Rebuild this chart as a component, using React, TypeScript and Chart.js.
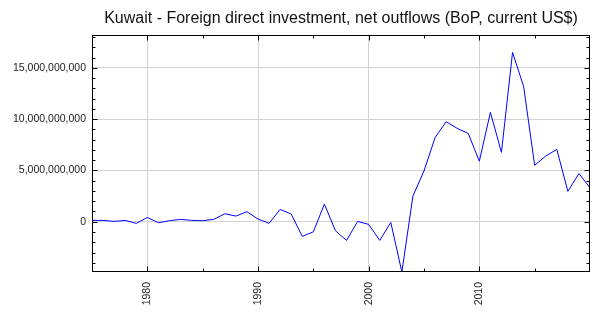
import React, { useEffect, useRef } from 'react';
import { Chart, registerables } from 'chart.js';

Chart.register(...registerables);

const TITLE = 'Kuwait - Foreign direct investment, net outflows (BoP, current US$)';

const years = [
  1975, 1976, 1977, 1978, 1979, 1980, 1981, 1982, 1983, 1984,
  1985, 1986, 1987, 1988, 1989, 1990, 1991, 1992, 1993, 1994,
  1995, 1996, 1997, 1998, 1999, 2000, 2001, 2002, 2003, 2004,
  2005, 2006, 2007, 2008, 2009, 2010, 2011, 2012, 2013, 2014,
  2015, 2016, 2017, 2018, 2019, 2020,
];

const values = [
  0.13e9, 0.13e9, 0.03e9, 0.13e9, -0.16e9, 0.42e9, -0.1e9, 0.1e9, 0.23e9, 0.13e9,
  0.1e9, 0.23e9, 0.78e9, 0.55e9, 0.98e9, 0.26e9, -0.16e9, 1.2e9, 0.75e9, -1.43e9,
  -0.98e9, 1.72e9, -0.88e9, -1.82e9, 0.03e9, -0.26e9, -1.82e9, -0.07e9, -4.9e9, 2.5e9,
  4.95e9, 8.2e9, 9.75e9, 9.1e9, 8.6e9, 5.9e9, 10.66e9, 6.76e9, 16.5e9, 13.2e9,
  5.5e9, 6.4e9, 7.05e9, 2.96e9, 4.7e9, 3.3e9,
];

const xTickValues = [1980, 1990, 2000, 2010];
const yTickValues = [0, 5e9, 10e9, 15e9];

const X_MIN = 1975;
const X_MAX = 2020;
const Y_MIN = -4.9e9;
const Y_MAX = 18.2e9;

const FONT = '"Liberation Sans", Arial, sans-serif';

const framePlugin = {
  id: 'frame',
  afterDatasetsDraw(chart: any) {
    const { ctx, chartArea: a, scales } = chart;
    const xs = scales.x;
    const ys = scales.y;
    const L = Math.round(a.left) + 0.5;
    const R = Math.round(a.right) - 0.5;
    const T = Math.round(a.top) + 0.5;
    const B = Math.round(a.bottom) - 0.5;
    ctx.save();
    ctx.strokeStyle = '#000';
    ctx.lineWidth = 1;
    ctx.beginPath();
    for (let v = Math.ceil(Y_MIN / 1e9); v <= Math.floor(Y_MAX / 1e9); v++) {
      const py = Math.round(ys.getPixelForValue(v * 1e9)) + 0.5;
      const len = v % 5 === 0 ? 5 : 3;
      ctx.moveTo(L, py);
      ctx.lineTo(L + len, py);
      ctx.moveTo(R, py);
      ctx.lineTo(R - len, py);
    }
    for (let yr = X_MIN + 5; yr < X_MAX; yr += 5) {
      const px = Math.round(xs.getPixelForValue(yr)) + 0.5;
      const len = yr % 10 === 0 ? 5 : 3;
      ctx.moveTo(px, B);
      ctx.lineTo(px, B - len);
      ctx.moveTo(px, T);
      ctx.lineTo(px, T + len);
    }
    ctx.stroke();
    ctx.strokeRect(L, T, R - L, B - T);
    ctx.restore();
  },
};

export default function App() {
  const canvasRef = useRef<HTMLCanvasElement | null>(null);

  useEffect(() => {
    const canvas = canvasRef.current;
    if (!canvas) return;
    const points = years.map((yr, i) => ({ x: yr, y: values[i] }));
    const chart = new Chart(canvas, {
      type: 'line',
      data: {
        datasets: [
          {
            data: points,
            borderColor: '#0000ff',
            borderWidth: 1,
            pointRadius: 0,
            tension: 0,
            fill: false,
          },
        ],
      },
      options: {
        responsive: false,
        animation: false,
        layout: { padding: { left: 0, right: 10, top: 0, bottom: 0 } },
        plugins: {
          legend: { display: false },
          tooltip: { enabled: false },
          title: {
            display: true,
            fullSize: false,
            text: TITLE,
            color: '#111',
            font: { family: FONT, size: 16, weight: 'normal', lineHeight: 1.2 },
            padding: { top: 9.2, bottom: 6.6 },
          },
        },
        scales: {
          x: {
            type: 'linear',
            min: X_MIN,
            max: X_MAX,
            afterBuildTicks: (scale: any) => {
              scale.ticks = xTickValues.map((v) => ({ value: v }));
            },
            afterFit: (scale: any) => {
              scale.height = 43;
            },
            grid: { color: '#d3d3d3', drawTicks: false },
            border: { display: false },
            ticks: {
              minRotation: 90,
              maxRotation: 90,
              padding: 10,
              color: '#222',
              font: { family: FONT, size: 10.5 },
              callback: (v: any) => String(v),
            },
          },
          y: {
            type: 'linear',
            min: Y_MIN,
            max: Y_MAX,
            afterBuildTicks: (scale: any) => {
              scale.ticks = yTickValues.map((v) => ({ value: v }));
            },
            afterFit: (scale: any) => {
              scale.width = 92;
            },
            grid: { color: '#d3d3d3', drawTicks: false },
            border: { display: false },
            ticks: {
              padding: 6,
              color: '#222',
              font: { family: FONT, size: 10.5 },
              callback: (v: any) => Number(v).toLocaleString('en-US'),
            },
          },
        },
      },
      plugins: [framePlugin],
    } as any);
    return () => chart.destroy();
  }, []);

  return (
    <div style={{ position: 'absolute', left: 0, top: 0, width: 600, height: 315, background: '#fff' }}>
      <canvas ref={canvasRef} width={600} height={315} style={{ display: 'block' }} />
    </div>
  );
}
